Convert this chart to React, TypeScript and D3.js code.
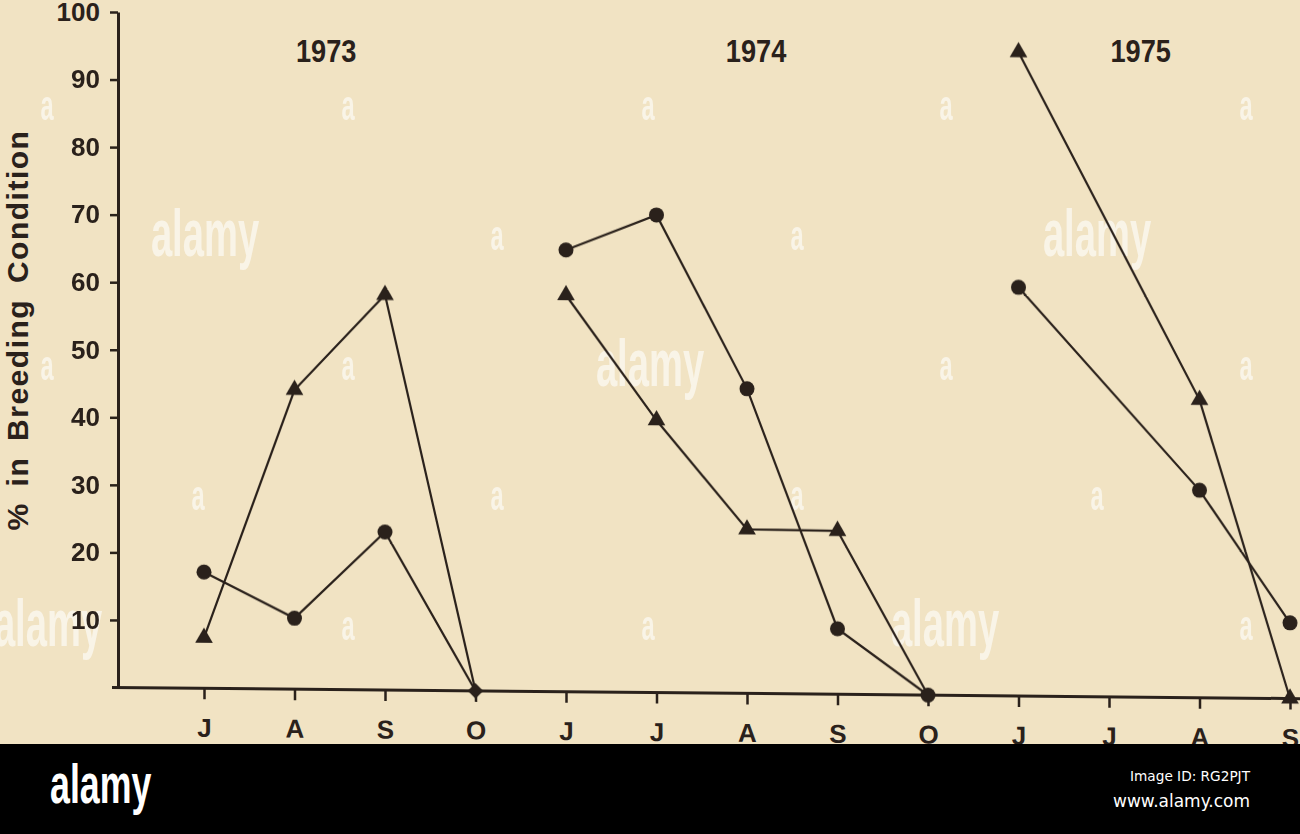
import React, { useEffect, useRef } from "react";
import * as d3 from "d3";

// ---------- data ----------
const monthKeys = [0, 1, 2, 3, 4, 5, 6, 7, 8, 9, 10, 11, 12];
const monthLabels = ["J", "A", "S", "O", "J", "J", "A", "S", "O", "J", "J", "A", "S"];
const yTicks = [10, 20, 30, 40, 50, 60, 70, 80, 90, 100];
const yearLabels = ["1973", "1974", "1975"];
const yearPos = [1.35, 6.1, 10.35];

// circles = one series, triangles = the other; each block starts at a month index
const circle1973 = [17.2, 10.5, 23.4, 0];
const triangle1973 = [7.5, 44.3, 58.5, 0];
const circle1974 = [65.4, 70.7, 45.1, 9.7, 0];
const triangle1974 = [58.7, 40.3, 24.3, 24.2, 0];
const circle1975 = [60.5, null, 30.7, 11.2];
const triangle1975 = [95.3, null, 44.1, 0];
const blockStart = [0, 4, 9];

// points where both series coincide (drawn as a single diamond / dot)
const hiddenMarkers = ["c-3", "t-3", "t-8"];
const diamondPoints = [{ i: 3, v: 0 }];

const yTitle = "% in Breeding Condition";

// ---------- layout ----------
const W = 1300;
const H = 834;
const X0 = 118;
const Y0 = 687.5;
const YTOP = 12;
const XFIRST = 204;
const XLAST = 1290;
const BG = "#f1e3c3";
const INK = "#2a211b";
const FONT = "'Liberation Sans', Arial, Helvetica, sans-serif";
const SKEW = 0.54;

const wmA = [
  [47, 108], [348, 108], [648, 108], [946, 108], [1246, 108],
  [497, 238], [797, 238],
  [47, 368], [348, 368], [946, 368], [1246, 368],
  [198, 498], [497, 498], [797, 498], [1097, 498],
  [348, 628], [648, 628], [1246, 628],
];
const wmAlamy = [
  [205, 238], [1097, 238], [650, 368], [48, 628], [945, 628],
];

function toPoints(vals: (number | null)[], start: number, prefix: string) {
  return vals
    .map((v, k) => ({ i: start + k, v, key: `${prefix}-${start + k}` }))
    .filter((p) => p.v !== null) as { i: number; v: number; key: string }[];
}

export default function App() {
  const xAxisRef = useRef<SVGGElement>(null);
  const yAxisRef = useRef<SVGGElement>(null);

  const x = d3.scaleLinear().domain([0, 12]).range([XFIRST, XLAST]);
  const y = d3.scaleLinear().domain([0, 100]).range([Y0, YTOP]);

  const circleSeries = [
    toPoints(circle1973, blockStart[0], "c"),
    toPoints(circle1974, blockStart[1], "c"),
    toPoints(circle1975, blockStart[2], "c"),
  ];
  const triangleSeries = [
    toPoints(triangle1973, blockStart[0], "t"),
    toPoints(triangle1974, blockStart[1], "t"),
    toPoints(triangle1975, blockStart[2], "t"),
  ];

  const line = d3
    .line<{ i: number; v: number }>()
    .x((d) => x(d.i))
    .y((d) => y(d.v));

  const triPath = d3.symbol(d3.symbolTriangle, 135)() as string;
  const sqPath = d3.symbol(d3.symbolSquare, 120)() as string;

  useEffect(() => {
    const gx = d3.select(xAxisRef.current!);
    gx.call(
      d3
        .axisBottom(x)
        .tickValues(monthKeys)
        .tickFormat((d) => monthLabels[d as number])
        .tickSize(11)
        .tickPadding(19)
    );
    gx.select(".domain").remove();
    gx.attr("font-family", FONT).attr("font-size", 26).attr("font-weight", "bold");
    gx.selectAll(".tick line").attr("stroke", INK).attr("stroke-width", 2.5);
    gx.selectAll(".tick text").attr("fill", INK);

    const gy = d3.select(yAxisRef.current!);
    gy.call(
      d3.axisLeft(y).tickValues(yTicks).tickSize(8).tickPadding(10).tickSizeOuter(0)
    );
    gy.select(".domain").attr("stroke", INK).attr("stroke-width", 3);
    gy.attr("font-family", FONT).attr("font-size", 26).attr("font-weight", "bold");
    gy.selectAll(".tick line").attr("stroke", INK).attr("stroke-width", 2.5);
    gy.selectAll(".tick text").attr("fill", INK);
  }, []);

  const skew = `translate(${X0},${Y0}) skewY(${SKEW}) translate(${-X0},${-Y0})`;

  return (
    <svg
      width={W}
      height={H}
      style={{ position: "absolute", left: 0, top: 0, display: "block" }}
    >
      <rect x={0} y={0} width={W} height={H} fill={BG} />

      {/* watermark */}
      <g fill="#ffffff" opacity={0.6} fontFamily={FONT} fontWeight="bold">
        {wmA.map(([cx, cy], k) => (
          <text
            key={`a${k}`}
            transform={`translate(${cx},${cy + 11.5}) scale(0.55,1)`}
            textAnchor="middle"
            fontSize={43}
          >
            a
          </text>
        ))}
        {wmAlamy.map(([cx, cy], k) => (
          <text
            key={`al${k}`}
            transform={`translate(${cx},${cy + 17.5}) scale(0.57,1)`}
            textAnchor="middle"
            fontSize={67}
          >
            alamy
          </text>
        ))}
      </g>

      {/* y axis title */}
      <text
        transform={`translate(28,330) rotate(-90)`}
        textAnchor="middle"
        fontFamily={FONT}
        fontWeight="bold"
        fontSize={30}
        fill={INK}
        letterSpacing={1.5}
        wordSpacing={6}
      >
        {yTitle}
      </text>

      {/* year labels */}
      {yearLabels.map((t, k) => (
        <text
          key={t}
          transform={`translate(${x(yearPos[k])},62) scale(0.85,1)`}
          textAnchor="middle"
          fontFamily={FONT}
          fontWeight="bold"
          fontSize={32}
          fill={INK}
        >
          {t}
        </text>
      ))}

      <g ref={yAxisRef} transform={`translate(${X0},0)`} />

      <g transform={skew}>
        <line
          x1={X0 - 6}
          x2={W}
          y1={y(0)}
          y2={y(0)}
          stroke={INK}
          strokeWidth={3}
        />
        <g ref={xAxisRef} transform={`translate(0,${y(0)})`} />

        {circleSeries.map((s, k) => (
          <path key={`cl${k}`} d={line(s) || ""} fill="none" stroke={INK} strokeWidth={2.2} />
        ))}
        {triangleSeries.map((s, k) => (
          <path key={`tl${k}`} d={line(s) || ""} fill="none" stroke={INK} strokeWidth={2.2} />
        ))}

        {triangleSeries.flat().filter((p) => !hiddenMarkers.includes(p.key)).map((p) => (
          <path
            key={p.key}
            d={triPath}
            transform={`translate(${x(p.i)},${y(p.v)})`}
            fill={INK}
          />
        ))}
        {circleSeries.flat().filter((p) => !hiddenMarkers.includes(p.key)).map((p) => (
          <circle key={p.key} cx={x(p.i)} cy={y(p.v)} r={7.5} fill={INK} />
        ))}
        {diamondPoints.map((p, k) => (
          <path
            key={`d${k}`}
            d={sqPath}
            transform={`translate(${x(p.i)},${y(p.v)}) rotate(45)`}
            fill={INK}
          />
        ))}
      </g>

      {/* bottom band */}
      <rect x={0} y={744} width={W} height={H - 744} fill="#000000" />
      <text
        transform="translate(50,803) scale(0.65,1)"
        fontFamily={FONT}
        fontWeight="bold"
        fontSize={55}
        fill="#ffffff"
      >
        alamy
      </text>
      <text
        x={1250}
        y={781}
        textAnchor="end"
        fontFamily="'DejaVu Sans', sans-serif"
        fontSize={14}
        fill="#ffffff"
        textLength={120}
        lengthAdjust="spacingAndGlyphs"
      >
        Image ID: RG2PJT
      </text>
      <text
        x={1250}
        y={807}
        textAnchor="end"
        fontFamily="'DejaVu Sans', sans-serif"
        fontSize={18}
        fill="#ffffff"
        textLength={137}
        lengthAdjust="spacingAndGlyphs"
      >
        www.alamy.com
      </text>
    </svg>
  );
}
